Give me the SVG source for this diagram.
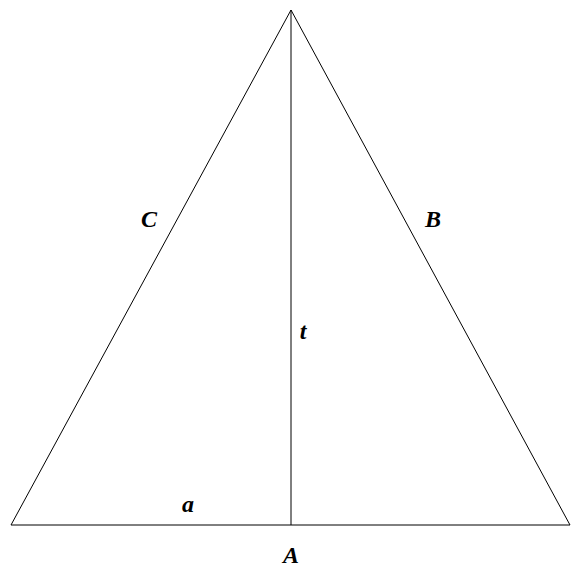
<svg xmlns="http://www.w3.org/2000/svg" width="581" height="588" viewBox="0 0 581 588">
<style>
.l{stroke:#000;stroke-width:1;fill:none}
.t{font-family:"Liberation Serif",serif;font-weight:bold;font-style:italic;font-size:24px;fill:#000;text-anchor:middle}
</style>
<rect width="581" height="588" fill="#fff"/>
<g id="connectors">
<polygon class="l" points="291,10 11,525 570,525"/>
<line class="l" x1="291" y1="10" x2="291" y2="525" stroke="#555"/>
</g>
<g id="labels">
<text class="t" x="149" y="227">C</text>
<text class="t" x="433" y="227">B</text>
<text class="t" x="303" y="339">t</text>
<text class="t" x="188" y="512">a</text>
<text class="t" x="291" y="563">A</text>
</g>
</svg>
